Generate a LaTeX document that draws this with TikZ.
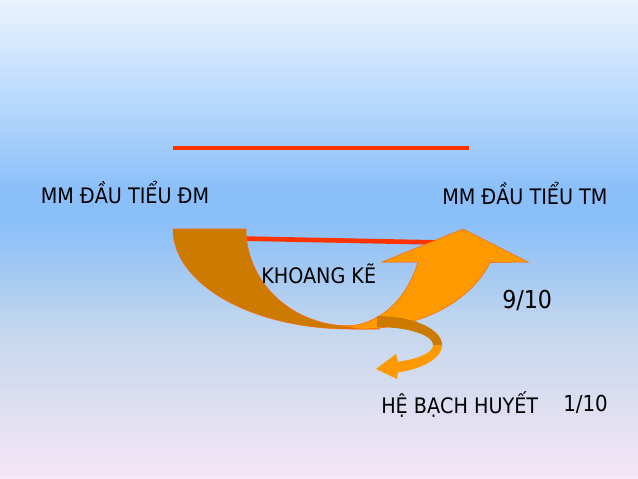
\documentclass[tikz,border=0pt]{standalone}
\usepackage{fontspec}
\setmainfont{DejaVu Sans Condensed}
\usepackage{xcolor}

\definecolor{arrback}{HTML}{CC7A00}
\definecolor{arrfront}{HTML}{FF9900}
\definecolor{arredge}{HTML}{FF6600}
\definecolor{redline}{HTML}{FF3300}
\definecolor{bgtop}{HTML}{EAF3FE}
\definecolor{bgsky}{HTML}{B8D9FC}
\definecolor{bgblue}{HTML}{8ABFF9}
\definecolor{bgmid}{HTML}{A6CAF2}
\definecolor{bglow}{HTML}{C4D7EE}
\definecolor{bgpale}{HTML}{DCDEF0}
\definecolor{bgbot}{HTML}{F6E6F6}

\pgfdeclareverticalshading{slidebg}{100bp}{color(0bp)=(bgbot); color(25bp)=(bgbot);
  color(33bp)=(bgpale); color(40.5bp)=(bglow); color(46bp)=(bgmid); color(52bp)=(bgblue);
  color(55bp)=(bgblue); color(64.5bp)=(bgsky); color(75bp)=(bgtop); color(100bp)=(bgtop)}

\begin{document}
\begin{tikzpicture}[x=0.75pt, y=-0.75pt,
  lbl/.style={inner sep=0pt, anchor=base west, font=\fontsize{16}{19}\selectfont},
  frac/.style={inner sep=0pt, anchor=base west},
  back/.style={fill=arrback, draw=arredge, line width=0.4pt},
  front/.style={fill=arrfront, draw=arredge, line width=0.4pt},
  bar/.style={redline, line width=3.5pt}
]
\shade[shading=slidebg] (0,0) rectangle (638,478);
\useasboundingbox (0,0) rectangle (638,478);

% red bars
\coordinate (t1) at (173,148);
\coordinate (t2) at (469,148);
\draw[bar, line width=3pt] (t1) -- (t2);
\coordinate (k1) at (240,238.5);
\coordinate (k2) at (440,242.5);
\draw[bar] (k1) -- (k2);

% big curved arrow
\filldraw[back] plot[domain=180:90, samples=30, smooth] ({350+177*cos(\x)},{229+100*sin(\x)})
  -- (380,329)
  -- plot[domain=90:180, samples=30, smooth] ({350+104*cos(\x)},{229+97*sin(\x)}) -- cycle;
\filldraw[front] plot[domain=97.4:19.9, samples=30, smooth] ({345+77.6*cos(\x)},{229+97*sin(\x)})
  -- (382,262) -- (463,229) -- (528,262)
  -- plot[domain=19.6:90, samples=30, smooth] ({360+138*cos(\x)},{229+100*sin(\x)}) -- cycle;

% small curved arrow
\fill[arrback] plot[domain=-90:0, samples=20, smooth] ({377+65*cos(\x)},{345+29*sin(\x)})
  -- plot[domain=0:-90, samples=20, smooth] ({377+56*cos(\x)},{345+18*sin(\x)}) -- cycle;
\fill[arrfront] plot[domain=0:71.2, samples=20, smooth] ({377+65*cos(\x)},{345+29*sin(\x)})
  -- (397,379) -- (376,369) -- (396,354)
  -- plot[domain=68:0, samples=20, smooth] ({377+56*cos(\x)},{345+18*sin(\x)}) -- cycle;

% labels
\node[lbl] (art) at (40.5,203.3) {MM ĐẦU TIỂU ĐM};
\node[lbl] (vein) at (442,204) {MM ĐẦU TIỂU TM};
\node[lbl] (gap) at (261,283.3) {KHOANG KẼ};
\node[lbl] (lymph) at (381,413.3) {HỆ BẠCH HUYẾT};
\node[frac, font=\fontsize{18.5}{22}\selectfont] (nine) at (502,308) {9/10};
\node[frac, font=\fontsize{16.5}{20}\selectfont] (one) at (563,411.7) {1/10};
\end{tikzpicture}
\end{document}
